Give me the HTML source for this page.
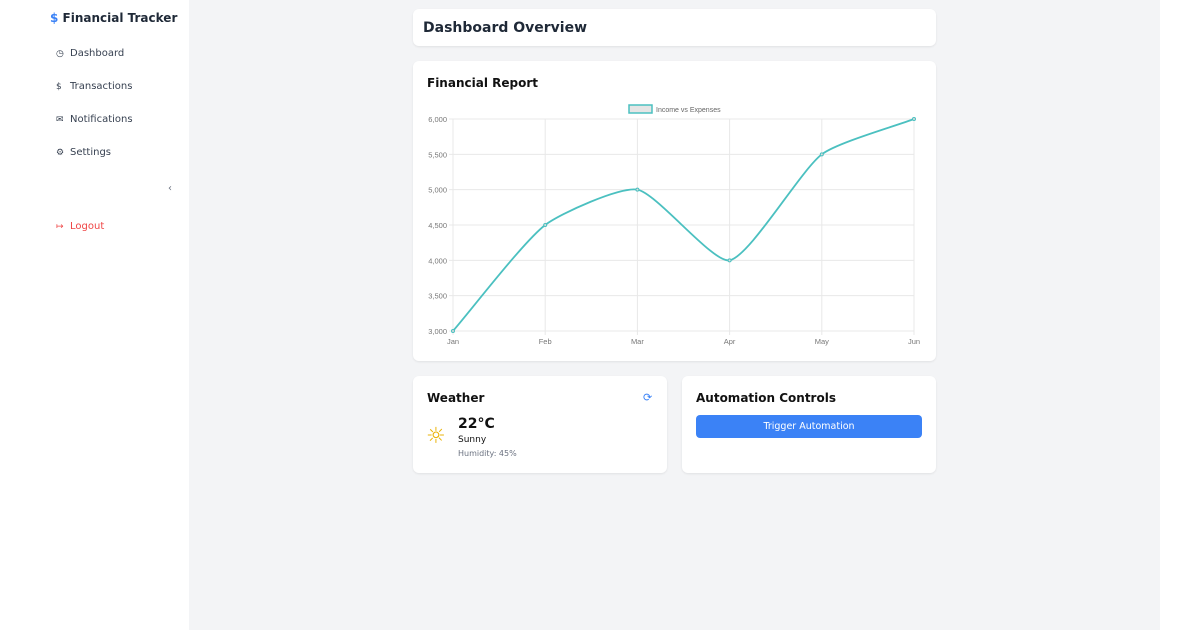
<!DOCTYPE html>
<html><head><meta charset="utf-8"><style>
*{box-sizing:border-box;margin:0;padding:0}
body{width:1200px;height:630px;background:#fff;font-family:"DejaVu Sans","Liberation Sans",sans-serif;position:relative;overflow:hidden;color:#1f2937}
#sidebar{position:absolute;left:0;top:0;width:189px;height:630px;background:#fff}
#main{position:absolute;left:189px;top:0;width:971px;height:630px;background:#f3f4f6}
.card{position:absolute;background:#fff;border-radius:6px;box-shadow:0 1px 2px rgba(0,0,0,.08)}
.nav{position:absolute;left:56px;font-size:10px;color:#374151}
.nav .ic{display:inline-block;width:14px;font-size:9px}
h3{font-size:12px;font-weight:bold;color:#111}
</style></head><body>
<div id="sidebar">
<div style="position:absolute;left:50px;top:11px;font-size:12px;font-weight:bold;color:#1f2937"><span style="color:#3b82f6">$</span>&nbsp;Financial Tracker</div>
<div class="nav" style="top:48px"><span class="ic">◷</span>Dashboard</div>
<div class="nav" style="top:81px"><span class="ic">$</span>Transactions</div>
<div class="nav" style="top:114px"><span class="ic">✉</span>Notifications</div>
<div class="nav" style="top:147px"><span class="ic">⚙</span>Settings</div>
<div style="position:absolute;left:168px;top:183px;font-size:10px;color:#6b7280">‹</div>
<div class="nav" style="top:221px;color:#ef4444"><span class="ic">↦</span>Logout</div>
</div>
<div id="main"></div>
<div class="card" style="left:413px;top:9px;width:523px;height:37px">
<div style="position:absolute;left:10px;top:11px;font-size:14px;font-weight:bold;color:#1f2937">Dashboard Overview</div></div>
<div class="card" style="left:413px;top:61px;width:523px;height:300px">
<h3 style="position:absolute;left:14px;top:15px">Financial Report</h3></div>
<svg id="chart" width="1200" height="630" style="position:absolute;left:0;top:0"></svg>
<div class="card" style="left:413px;top:376px;width:254px;height:97px">
<h3 style="position:absolute;left:14px;top:15px">Weather</h3>
<div style="position:absolute;left:230px;top:15px;color:#3b82f6;font-size:11px">⟳</div>
<div style="position:absolute;left:13px;top:48px;color:#eab308;font-size:22px">☼</div>
<div style="position:absolute;left:45px;top:40px;font-size:14px;font-weight:bold;color:#111">22°C</div>
<div style="position:absolute;left:45px;top:59px;font-size:9px;color:#111">Sunny</div>
<div style="position:absolute;left:45px;top:73px;font-size:8px;color:#6b7280">Humidity: 45%</div>
</div>
<div class="card" style="left:682px;top:376px;width:254px;height:97px">
<h3 style="position:absolute;left:14px;top:15px">Automation Controls</h3>
<div style="position:absolute;left:14px;top:39px;width:226px;height:23px;background:#3b82f6;border-radius:4px;color:#fff;font-size:9.5px;text-align:center;line-height:23px">Trigger Automation</div>
</div>
<script>
const categories=["Jan","Feb","Mar","Apr","May","Jun"];
const values=[3000,4500,5000,4000,5500,6000];
const yTicks=[3000,3500,4000,4500,5000,5500,6000];
const svg=document.getElementById('chart');const NS="http://www.w3.org/2000/svg";
const X0=453,X1=914,Y0=331,Y1=119,YMIN=3000,YMAX=6000;
const x=i=>X0+(X1-X0)*i/(categories.length-1);
const y=v=>Y0-(Y0-Y1)*(v-YMIN)/(YMAX-YMIN);
function add(t,a,txt){const e=document.createElementNS(NS,t);for(const k in a)e.setAttribute(k,a[k]);if(txt!=null)e.textContent=txt;svg.appendChild(e);return e;}
yTicks.forEach(v=>{
const g=add('line',{x1:X0-4,x2:X1,y1:y(v),y2:y(v),stroke:'#e8e8e8'});


const t=add('text',{x:X0-6,y:y(v)+3,'text-anchor':'end','font-size':7.5,fill:'#777','font-family':'Liberation Sans, sans-serif'},v.toLocaleString('en-US'));


});
categories.forEach((c,i)=>{
const g=add('line',{x1:x(i),x2:x(i),y1:Y1,y2:Y0+4,stroke:'#e8e8e8'});


const t=add('text',{x:x(i),y:Y0+13,'text-anchor':'middle','font-size':7.5,fill:'#777','font-family':'Liberation Sans, sans-serif'},c);


});
const pts=values.map((v,i)=>[x(i),y(v)]);
const T=0.2;let d=`M${pts[0][0]},${pts[0][1]}`;
const cps=pts.map((p,i)=>{const pr=pts[Math.max(0,i-1)],nx=pts[Math.min(pts.length-1,i+1)];
const d01=Math.hypot(p[0]-pr[0],p[1]-pr[1]),d12=Math.hypot(nx[0]-p[0],nx[1]-p[1]);
let fa=d01/(d01+d12)||0,fb=d12/(d01+d12)||0;fa*=T;fb*=T;
return {p:[p[0]-fa*(nx[0]-pr[0]),p[1]-fa*(nx[1]-pr[1])],n:[p[0]+fb*(nx[0]-pr[0]),p[1]+fb*(nx[1]-pr[1])]};});
for(let i=1;i<pts.length;i++){const a=cps[i-1].n,b=cps[i].p;d+=` C${a[0]},${a[1]} ${b[0]},${b[1]} ${pts[i][0]},${pts[i][1]}`;}
const line=add('path',{d:d,fill:'none',stroke:'#4bc0c0','stroke-width':1.8});


pts.forEach(p=>{const c=add('circle',{cx:p[0],cy:p[1],r:1.5,fill:'#ddd',stroke:'#4bc0c0','stroke-width':1});

});
const lb=add('rect',{x:629,y:105,width:23,height:8,fill:'#e5e5e5',stroke:'#4bc0c0','stroke-width':1.5});


const lt=add('text',{x:656,y:112,'font-size':7,fill:'#666','font-family':'Liberation Sans, sans-serif'},'Income vs Expenses');


</script>
</body></html>
